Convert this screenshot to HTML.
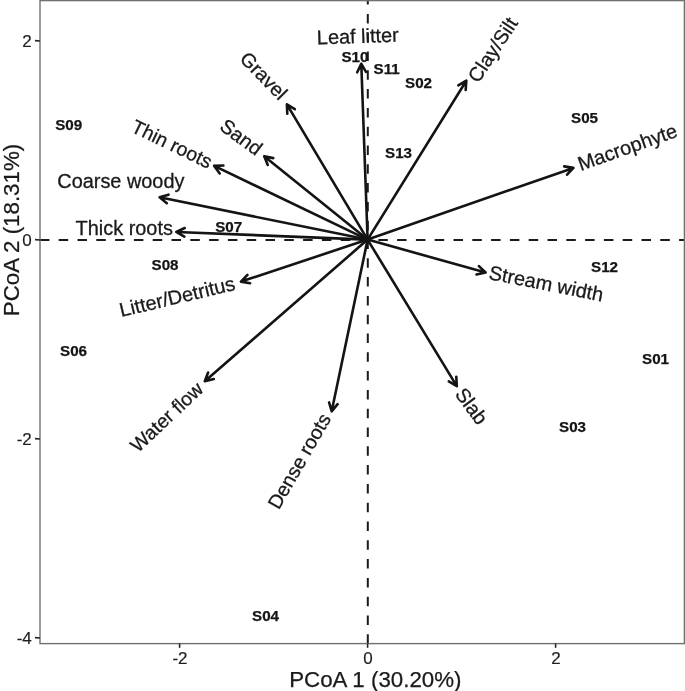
<!DOCTYPE html>
<html><head><meta charset="utf-8"><title>PCoA</title>
<style>html,body{margin:0;padding:0;background:#fff}svg{display:block}text{font-family:"Liberation Sans",Arial,sans-serif}</style></head><body>
<svg width="685" height="691" viewBox="0 0 685 691">
<rect x="0" y="0" width="685" height="691" fill="#fff"/>
<g stroke="#1a1a1a" stroke-width="2" fill="none" stroke-dasharray="9.5 9.3">
<line x1="39.9" y1="240" x2="684.4" y2="240"/>
<line x1="367.8" y1="643.8" x2="367.8" y2="0"/>
</g>
<g stroke="#141414" stroke-width="2.6" fill="none" stroke-linecap="round" stroke-linejoin="round">
<path d="M367.6 239.6L361.3 63.9M366.0 71.9L361.3 63.9L357.2 72.3"/>
<path d="M367.6 239.6L286.9 104.4M294.8 109.2L286.9 104.4L287.3 113.7"/>
<path d="M367.6 239.6L264.2 156.3M273.3 158.1L264.2 156.3L267.8 164.9"/>
<path d="M367.6 239.6L214.2 165.9M223.4 165.5L214.2 165.9L219.7 173.4"/>
<path d="M367.6 239.6L159.6 197.3M168.5 194.7L159.6 197.3L166.8 203.2"/>
<path d="M367.6 239.6L176.3 232.0M184.7 228.0L176.3 232.0L184.3 236.7"/>
<path d="M367.6 239.6L241.0 281.6M247.4 274.9L241.0 281.6L250.1 283.2"/>
<path d="M367.6 239.6L204.8 381.2M208.1 372.5L204.8 381.2L213.8 379.1"/>
<path d="M367.6 239.6L331.7 411.3M329.1 402.4L331.7 411.3L337.6 404.2"/>
<path d="M367.6 239.6L456.8 386.1M448.8 381.3L456.8 386.1L456.3 376.8"/>
<path d="M367.6 239.6L485.6 272.5M476.5 274.5L485.6 272.5L478.9 266.1"/>
<path d="M367.6 239.6L573.4 167.9M567.1 174.7L573.4 167.9L564.2 166.4"/>
<path d="M367.6 239.6L466.3 80.7M465.7 90.0L466.3 80.7L458.3 85.4"/>
</g>
<rect x="40" y="0.6" width="644.4" height="643" fill="none" stroke="#707070" stroke-width="1.4"/>
<g stroke="#262626" stroke-width="1.6">
<line x1="35" y1="40.6" x2="40" y2="41"/>
<line x1="35" y1="239.6" x2="40" y2="240"/>
<line x1="35" y1="438.6" x2="40" y2="439"/>
<line x1="35" y1="637.6" x2="40" y2="638"/>
<line x1="179.6" y1="643.5" x2="179.6" y2="647.8"/>
<line x1="367.6" y1="643.5" x2="367.6" y2="647.8"/>
<line x1="555.6" y1="643.5" x2="555.6" y2="647.8"/>
</g>
<g font-size="17" fill="#1f1f1f" stroke="#1f1f1f" stroke-width="0.2">
<text x="31.8" y="46.9" text-anchor="end">2</text>
<text x="31.8" y="245.9" text-anchor="end">0</text>
<text x="31.8" y="444.9" text-anchor="end">-2</text>
<text x="31.8" y="643.9" text-anchor="end">-4</text>
<text x="180" y="664.2" text-anchor="middle">-2</text>
<text x="368" y="664.2" text-anchor="middle">0</text>
<text x="556" y="664.2" text-anchor="middle">2</text>
</g>
<g font-size="22.3" fill="#1a1a1a" stroke="#1a1a1a" stroke-width="0.25">
<text x="375.3" y="686.7" text-anchor="middle">PCoA 1 (30.20%)</text>
<text transform="translate(18.6 230) rotate(-90)" text-anchor="middle">PCoA 2 (18.31%)</text>
</g>
<g font-size="19.9" fill="#1a1a1a" stroke="#1a1a1a" stroke-width="0.3">
<text transform="translate(358 43.0) rotate(-2)" text-anchor="middle">Leaf litter</text>
<text transform="translate(279.1 101.1) rotate(45.7)" text-anchor="end" font-size="19.6">Gravel</text>
<text transform="translate(255.8 156.4) rotate(36.5)" text-anchor="end">Sand</text>
<text transform="translate(208.0 168.9) rotate(25.8)" text-anchor="end" font-size="19.5">Thin roots</text>
<text transform="translate(57.3 187.6) rotate(0)" text-anchor="start">Coarse woody</text>
<text transform="translate(75.6 235.0) rotate(0)" text-anchor="start">Thick roots</text>
<text transform="translate(121.2 317.1) rotate(-13.4)" text-anchor="start">Litter/Detritus</text>
<text transform="translate(138.0 453.3) rotate(-43.3)" text-anchor="start" font-size="19.5">Water flow</text>
<text transform="translate(278.8 510.6) rotate(-60.2)" text-anchor="start" font-size="19.7">Dense roots</text>
<text transform="translate(454.2 394.2) rotate(53.5)" text-anchor="start">Slab</text>
<text transform="translate(488 279) rotate(11.2)" text-anchor="start">Stream width</text>
<text transform="translate(580.7 171.0) rotate(-19.5)" text-anchor="start">Macrophyte</text>
<text transform="translate(478.3 84) rotate(-56.5)" text-anchor="start">Clay/Silt</text>
</g>
<g font-size="15.2" font-weight="bold" fill="#141414" stroke="#141414" stroke-width="0.25">
<text x="55.2" y="130">S09</text>
<text x="151.5" y="270.2">S08</text>
<text x="215.2" y="232.3">S07</text>
<text x="60" y="356">S06</text>
<text x="252" y="621">S04</text>
<text x="341.4" y="62">S10</text>
<text x="373.5" y="74">S11</text>
<text x="405" y="88">S02</text>
<text x="385" y="158">S13</text>
<text x="571" y="122.8">S05</text>
<text x="591" y="272">S12</text>
<text x="642" y="364">S01</text>
<text x="559" y="432">S03</text>
</g>
</svg></body></html>
